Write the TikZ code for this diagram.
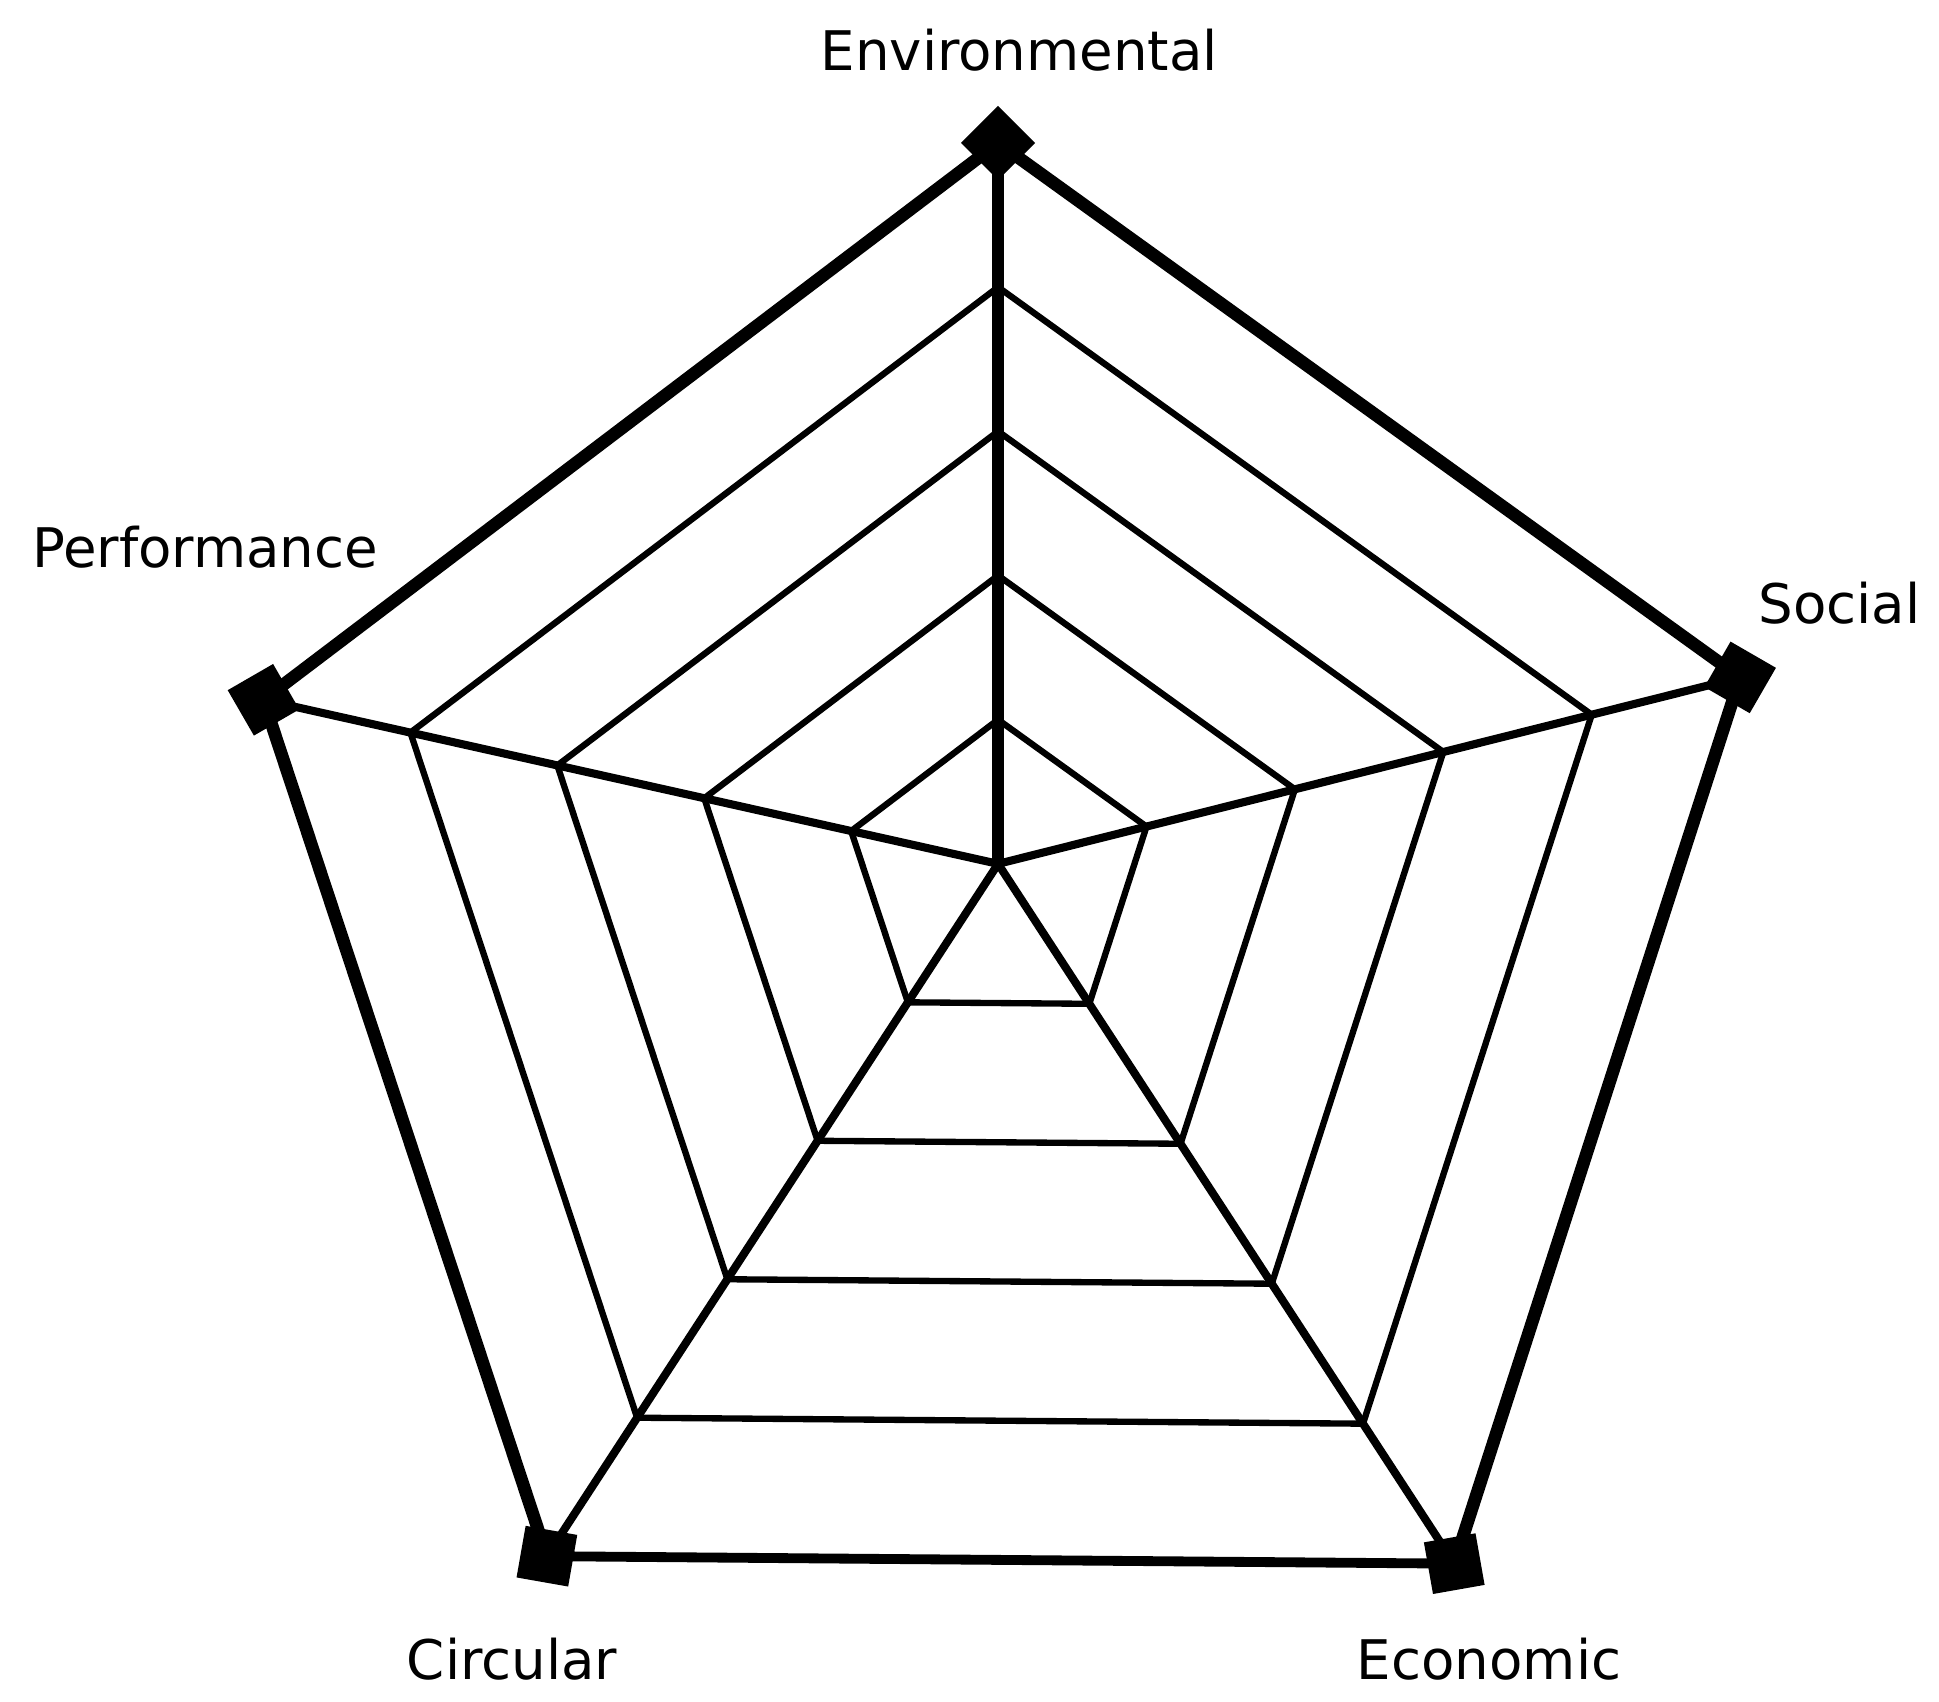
\documentclass[tikz,border=0pt]{standalone}
\usepackage{fontspec}
\setmainfont{DejaVu Sans}
\usetikzlibrary{calc}
\begin{document}
\begin{tikzpicture}[x=0.02cm,y=-0.02cm,
  thin ring/.style={line width=2.9pt,line join=miter},
  spoke/.style={line width=3.7pt},
  outer/.style={line width=5.8pt,line join=miter},
  lbl/.style={font=\fontsize{25}{30}\selectfont},
  mk/.style={fill=black,minimum size=24pt,inner sep=0pt}]
\useasboundingbox (0,0) rectangle (1560,1369);
\coordinate (C) at (803,695);
\coordinate (E) at (803,115);
\coordinate (S) at (1400,545);
\coordinate (Ec) at (1170,1258);
\coordinate (Ci) at (440,1252);
\coordinate (P) at (212,563);
\foreach \f in {0.2,0.4,0.6,0.8}
  \draw[thin ring] ($(C)!\f!(E)$) -- ($(C)!\f!(S)$) -- ($(C)!\f!(Ec)$) -- ($(C)!\f!(Ci)$) -- ($(C)!\f!(P)$) -- cycle;
\draw[outer] (E) -- (S) -- (Ec);
\draw[outer] (Ci) -- (P) -- (E);
\draw[line width=4.5pt] (Ec) -- (Ci);
\draw[outer] (C) -- (E);
\foreach \v in {S,Ec,Ci,P} \draw[spoke] (C) -- (\v);
\node[mk,rotate=45] (mE) at (E) {};
\node[mk,rotate=-30] (mS) at (S) {};
\node[mk,rotate=10] (mEc) at (Ec) {};
\node[mk,rotate=-10] (mCi) at (Ci) {};
\node[mk,rotate=30] (mP) at (P) {};
\node[lbl] (tE) at (820,40) {Environmental};
\node[lbl] (tS) at (1480,485) {Social};
\node[lbl] (tP) at (165,440) {Performance};
\node[lbl] (tCi) at (412,1335) {Circular};
\node[lbl] (tEc) at (1198,1335) {Economic};
\end{tikzpicture}
\end{document}
